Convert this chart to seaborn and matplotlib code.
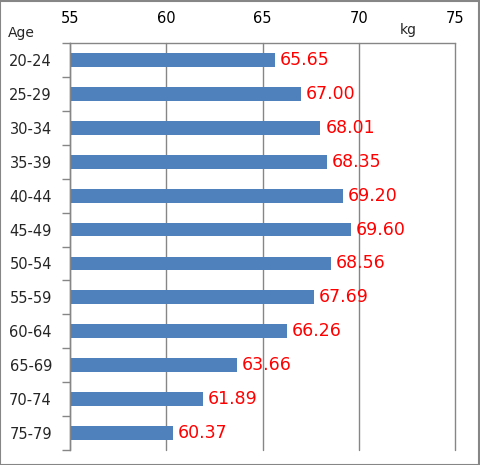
import numpy as np
import pandas as pd
import matplotlib
matplotlib.use("Agg")
import matplotlib.pyplot as plt
from matplotlib.patches import Rectangle
import seaborn as sns

# data
age_groups = ["20-24", "25-29", "30-34", "35-39", "40-44", "45-49",
              "50-54", "55-59", "60-64", "65-69", "70-74", "75-79"]
weights_kg = [65.65, 67.00, 68.01, 68.35, 69.20, 69.60,
              68.56, 67.69, 66.26, 63.66, 61.89, 60.37]
x_ticks = [55, 60, 65, 70, 75]

sns.set_style("white")
plt.rcParams['font.family'] = ['DejaVu Sans']

df = pd.DataFrame({"age": age_groups, "kg": weights_kg})

fig = plt.figure(figsize=(4.8, 4.65), dpi=100)
ax = fig.add_axes([70 / 480, 1 - 450 / 465, 385 / 480, 407 / 465])

sns.barplot(data=df, x="kg", y="age", orient="h", color="#4F81BD",
            saturation=1, width=0.41, linewidth=0, ax=ax)

ax.set_xlim(55, 75)
ax.set_ylim(len(age_groups) - 0.5, -0.5)
ax.set_xticks(x_ticks)
ax.xaxis.tick_top()
ax.set_xlabel("")
ax.set_ylabel("")
ax.tick_params(axis='x', length=0, pad=12, labelsize=10.5, colors='black')
ax.tick_params(axis='y', which='major', left=True, length=0, pad=13, labelsize=10.5)
ax.set_yticks(np.arange(-0.5, len(age_groups), 1), minor=True)
ax.tick_params(axis='y', which='minor', left=True, length=6, width=1,
               color='#868686', direction='out')

ax.grid(axis='x', color='#868686', linewidth=1)
ax.set_axisbelow(True)
for line in ax.get_xgridlines():
    line.set_clip_on(False)
for side in ['right', 'bottom']:
    ax.spines[side].set_visible(False)
for side in ['left', 'top']:
    ax.spines[side].set_color('#868686')
    ax.spines[side].set_linewidth(1)

# value labels at the bar ends
for i, v in enumerate(weights_kg):
    ax.text(v + 0.25, i, f"{v:.2f}", color='#FF0000', fontsize=12.5, va='center', ha='left')

fig.text(8 / 480, 1 - 33 / 465, "Age", fontsize=10, ha='left', va='center')
fig.text(408 / 480, 1 - 30 / 465, "kg", fontsize=10, ha='center', va='center')

fig.patches.append(Rectangle((0.001, 0.001), 0.997, 0.997, transform=fig.transFigure,
                             fill=False, edgecolor='#868686', linewidth=1.5))

fig.savefig("out.png", dpi=100)
